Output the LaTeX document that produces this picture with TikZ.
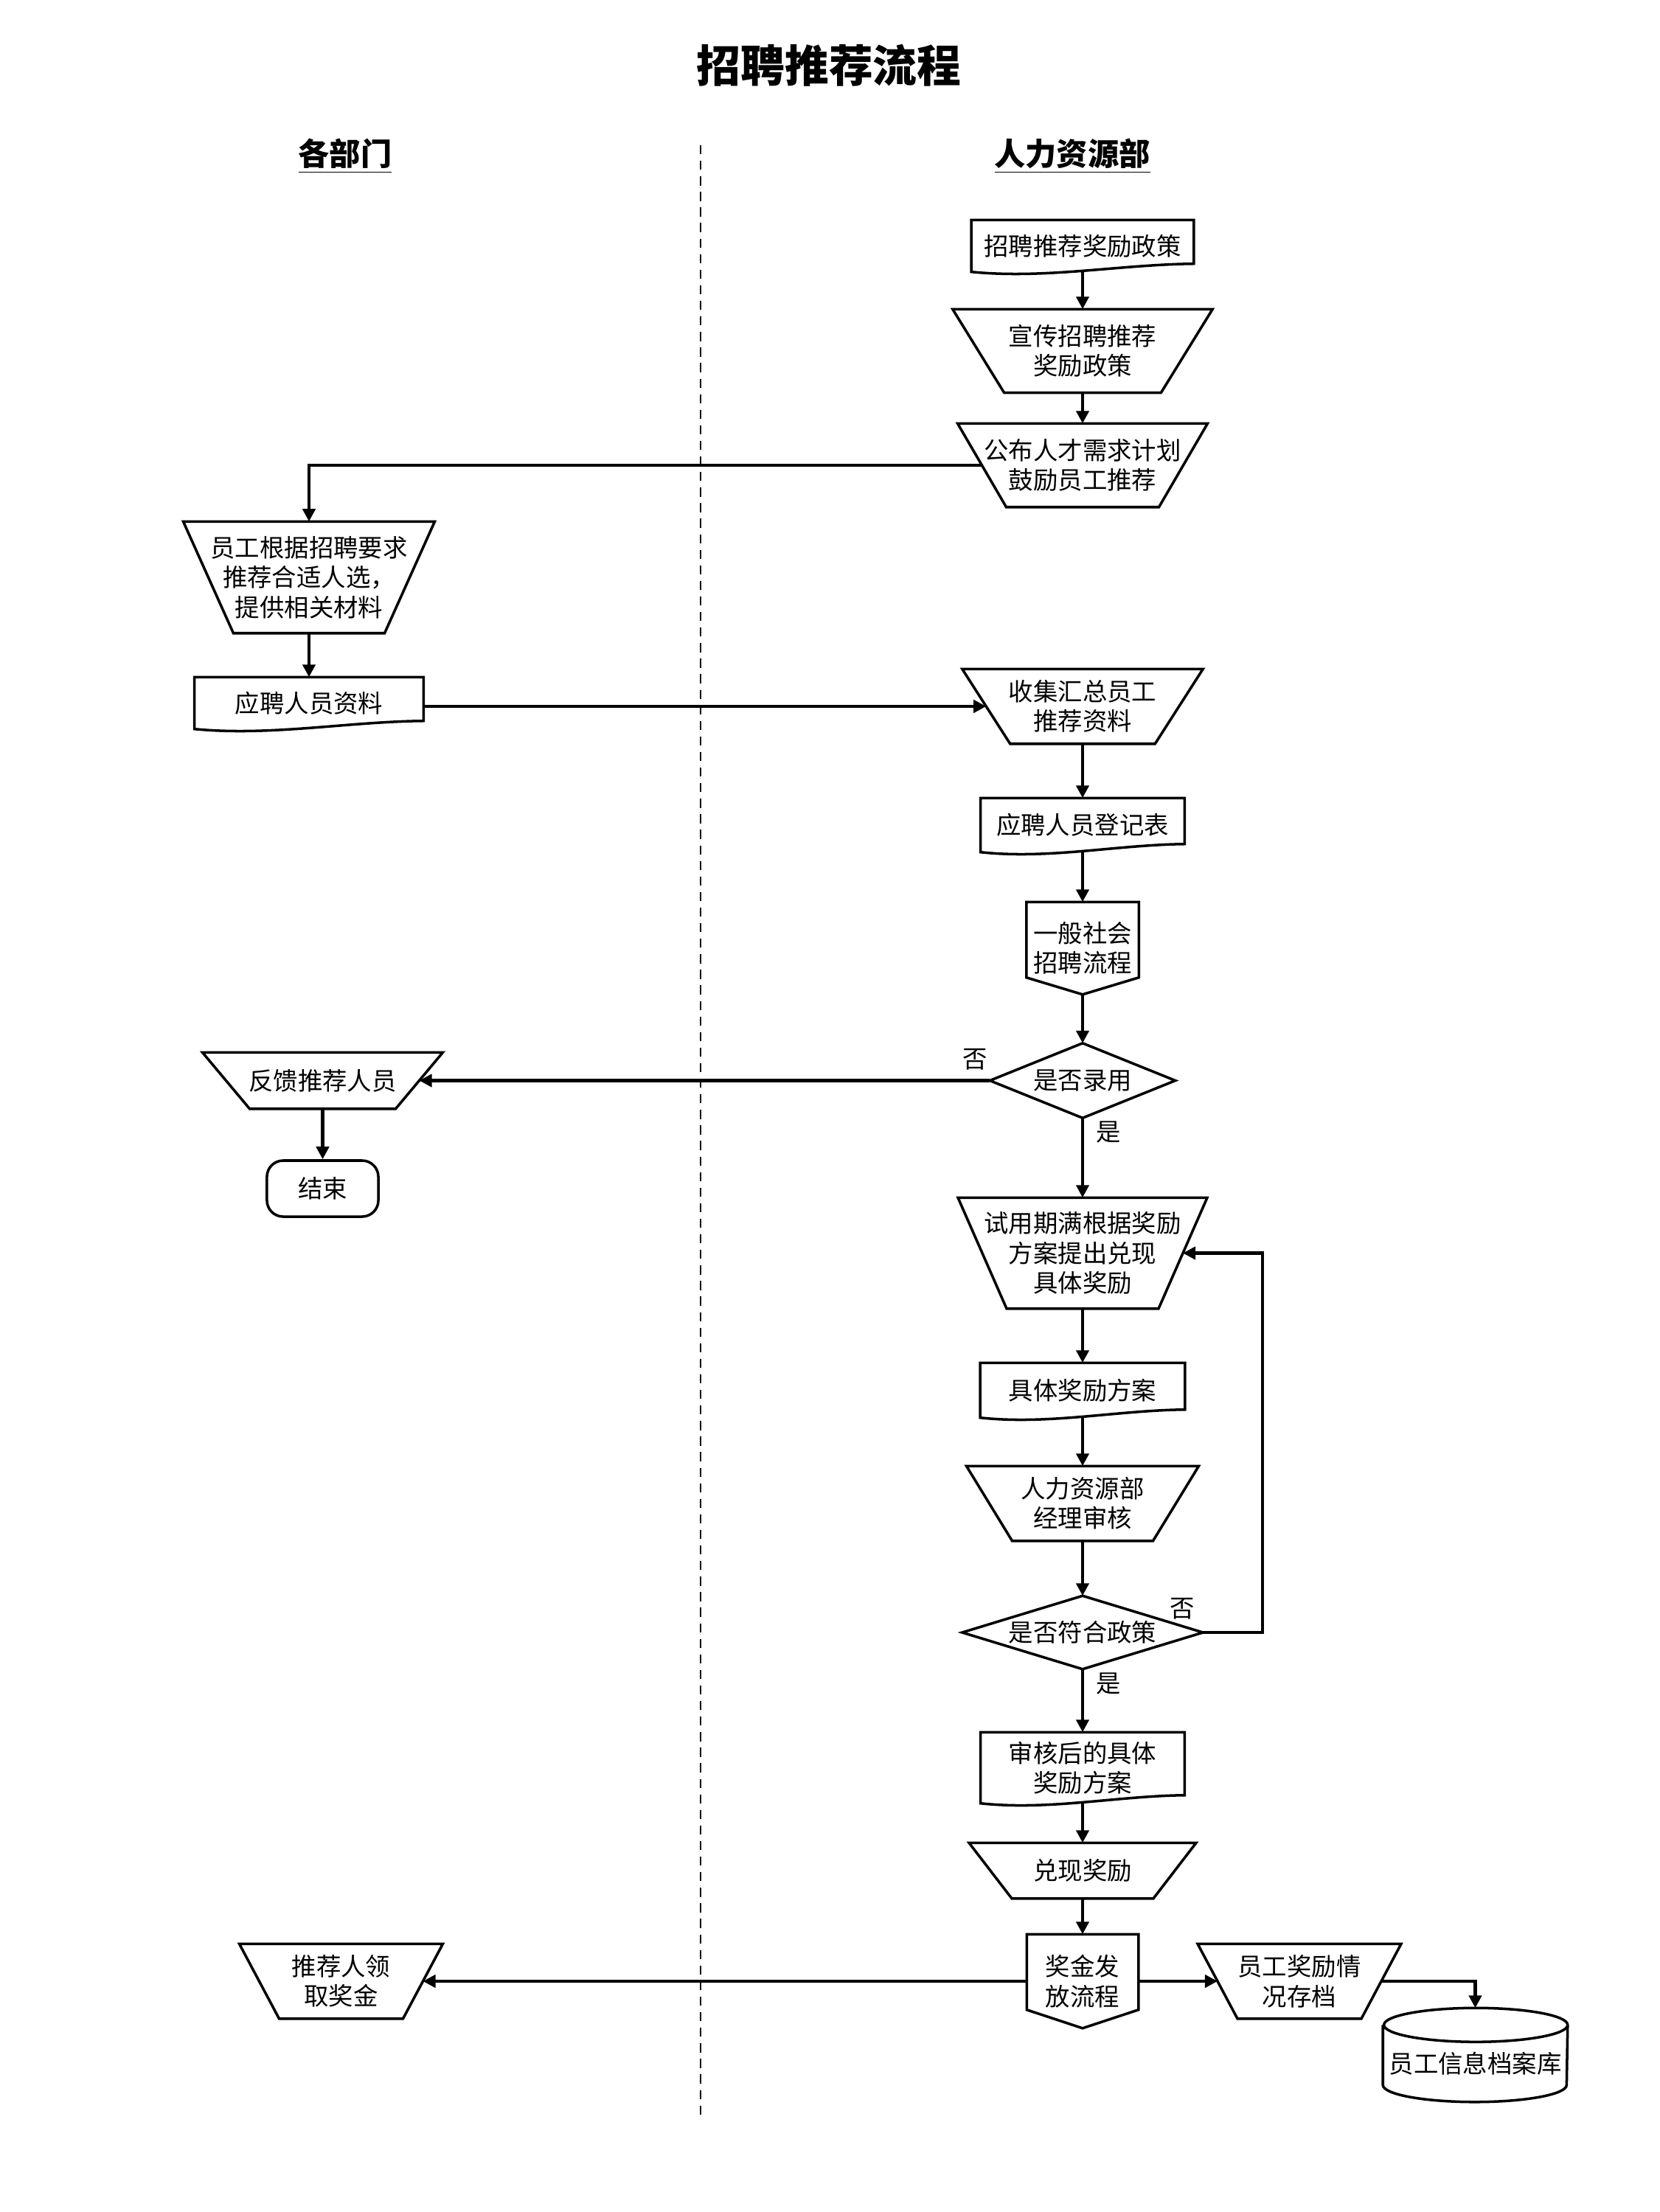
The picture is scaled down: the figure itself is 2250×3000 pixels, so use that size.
\documentclass[tikz,border=0pt]{standalone}
\usepackage{fontspec}
\newfontfamily\cjk{Noto Sans CJK SC}
\usetikzlibrary{arrows.meta,calc}
\tikzset{
  txt/.style={inner sep=0pt, align=center, font=\cjk\fontsize{9.5}{11.5}\selectfont},
  shapeline/.style={line width=1pt, line join=miter},
  arr/.style={line width=1.2pt, -{Triangle[length=0.17cm,width=0.17cm]}},
  hdr/.style={inner sep=0pt, font=\cjk\bfseries\fontsize{12}{14}\selectfont},
}
% trapezoid (wide top): node = mid-height box, #2 = quarter of width difference
\newcommand\trapout[2]{\draw[shapeline] ($(#1.north west)+(-#2,0)$) -- ($(#1.north east)+(#2,0)$) -- ($(#1.south east)+(-#2,0)$) -- ($(#1.south west)+(#2,0)$) -- cycle;}
% document shape with wavy bottom
\newcommand\docout[1]{\draw[shapeline] ($(#1.south east)+(0,-11)$) -- (#1.north east) -- (#1.north west) -- (#1.south west) .. controls ($(#1.south west)!0.333!(#1.south east)+(0,10)$) and ($(#1.south west)!0.667!(#1.south east)+(0,-10)$) .. ($(#1.south east)+(0,-11)$) -- cycle;}
% off-page connector (pentagon pointing down), #2 = depth of the point
\newcommand\pentout[2]{\draw[shapeline] (#1.north west) -- (#1.north east) -- ($(#1.south east)+(0,-#2)$) -- (#1.south) -- ($(#1.south west)+(0,-#2)$) -- cycle;}
% decision diamond
\newcommand\diamout[1]{\draw[shapeline] (#1.north) -- (#1.east) -- (#1.south) -- (#1.west) -- cycle;}
\begin{document}
\begin{tikzpicture}[x=0.01cm,y=-0.01cm]
\fill[white] (0,0) rectangle (2250,3000);
\useasboundingbox (0,0) rectangle (2250,3000);

% title and lane headers
\node[inner sep=0pt, font=\cjk\bfseries\fontsize{17}{20}\selectfont] (title) at (1124,89) {招聘推荐流程};
\node[hdr] (lane1) at (468,212) {\underline{各部门}};
\node[hdr] (lane2) at (1454,212) {\underline{人力资源部}};
\draw[line width=0.6pt, dash pattern=on 3.5pt off 2.5pt] (950,197) -- (950,2873);

% right column
\node[txt, minimum width=3cm, minimum height=0.69cm] (A) at (1468,333.5) {招聘推荐奖励政策};
\docout{A}
\node[txt, minimum width=2.81cm, minimum height=1.12cm] (B) at (1468,476) {宣传招聘推荐\\奖励政策};
\trapout{B}{35}
\node[txt, minimum width=2.715cm, minimum height=1.12cm] (C) at (1468,631) {公布人才需求计划\\鼓励员工推荐};
\trapout{C}{33}
\node[txt, minimum width=2.6cm, minimum height=1cm] (F) at (1468,958) {收集汇总员工\\推荐资料};
\trapout{F}{32.5}
\node[txt, minimum width=2.75cm, minimum height=0.72cm] (G) at (1468,1119) {应聘人员登记表};
\docout{G}
\node[txt, minimum width=1.51cm, minimum height=1.24cm] (H) at (1468,1286) {一般社会\\招聘流程};
\pentout{H}{23}
\node[txt, minimum width=2.5cm, minimum height=1cm] (J) at (1468,1465.5) {是否录用};
\diamout{J}
\node[txt, minimum width=2.705cm, minimum height=1.49cm] (L) at (1468,1699.5) {试用期满根据奖励\\方案提出兑现\\具体奖励};
\trapout{L}{33}
\node[txt, minimum width=2.76cm, minimum height=0.73cm] (M) at (1468,1885.5) {具体奖励方案};
\docout{M}
\node[txt, minimum width=2.515cm, minimum height=1cm] (N) at (1468,2039) {人力资源部\\经理审核};
\trapout{N}{31}
\node[txt, minimum width=3.25cm, minimum height=0.98cm] (O) at (1468,2214) {是否符合政策};
\diamout{O}
\node[txt, minimum width=2.75cm, minimum height=0.95cm] (P) at (1468,2397.5) {审核后的具体\\奖励方案};
\docout{P}
\node[txt, minimum width=2.485cm, minimum height=0.74cm] (Q) at (1468,2537) {兑现奖励};
\trapout{Q}{29}
\node[txt, minimum width=1.5cm, minimum height=1.26cm] (R) at (1468,2687) {奖金发\\放流程};
\pentout{R}{25}
\node[txt, minimum width=2.205cm, minimum height=1cm] (S) at (1762,2687) {员工奖励情\\况存档};
\trapout{S}{27}
\node[txt, minimum width=2.49cm, minimum height=1.03cm] (U) at (2000.5,2798.5) {员工信息档案库};
\draw[shapeline] (U.north west) -- ($(U.south west)+(0,-23)$)
  arc[start angle=180, end angle=360, x radius=1.245cm, y radius=0.23cm]
  -- (U.north east)
  arc[start angle=0, end angle=180, x radius=1.245cm, y radius=0.23cm]
  arc[start angle=180, end angle=360, x radius=1.245cm, y radius=0.23cm];

% left column
\node[txt, minimum width=2.715cm, minimum height=1.5cm] (D) at (419,783) {员工根据招聘要求\\推荐合适人选，\\提供相关材料};
\trapout{D}{34}
\node[txt, minimum width=3.09cm, minimum height=0.69cm] (E) at (419,953.5) {应聘人员资料};
\docout{E}
\node[txt, minimum width=2.605cm, minimum height=0.75cm] (K) at (437.5,1465.5) {反馈推荐人员};
\trapout{K}{32}
\node[txt, draw, line width=1pt, rounded corners=0.22cm, minimum width=1.51cm, minimum height=0.76cm] (END) at (437.5,1612) {结束};
\node[txt, minimum width=2.205cm, minimum height=1cm] (T) at (462.5,2687) {推荐人领\\取奖金};
\trapout{T}{27}

% connectors
\draw[arr] (A.south) -- (B.north);
\draw[arr] (B.south) -- (C.north);
\draw[arr] (C.west) -| (D.north);
\draw[arr] (D.south) -- (E.north);
\draw[arr] (E.east |- F.west) -- (F.west);
\draw[arr] (F.south) -- (G.north);
\draw[arr] (G.south) -- (H.north);
\draw[arr] (H.south) -- (J.north);
\draw[arr] (J.west) -- (K.east);
\draw[arr] (K.south) -- (END.north);
\draw[arr] (J.south) -- (L.north);
\draw[arr] (L.south) -- (M.north);
\draw[arr] (M.south) -- (N.north);
\draw[arr] (N.south) -- (O.north);
\draw[arr] (O.east) -- (1712,2214) |- (L.east);
\draw[arr] (O.south) -- (P.north);
\draw[arr] (P.south) -- (Q.north);
\draw[arr] (Q.south) -- (R.north);
\draw[arr] (R.west) -- (T.east);
\draw[arr] (R.east) -- (S.west);
\draw[arr] (S.east) -| ($(U.north)+(0,-23)$);

% branch labels
\node[txt] (jno) at (1322,1437) {否};
\node[txt] (jyes) at (1503,1535) {是};
\node[txt] (ono) at (1603,2182) {否};
\node[txt] (oyes) at (1503,2283) {是};
\end{tikzpicture}
\end{document}
